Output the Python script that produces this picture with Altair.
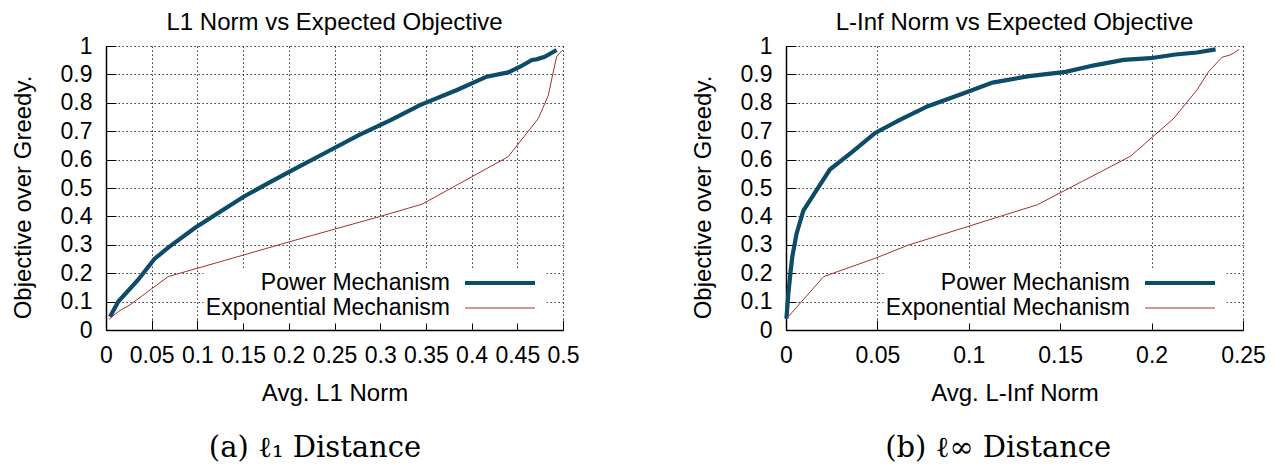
import altair as alt
import pandas as pd

SERIES = ["Power Mechanism", "Exponential Mechanism"]
COLORS = ["#0c4c68", "#a3302c"]
WIDTHS = [4.2, 1.0]

# L1 panel
l1_power_x = [0.0044, 0.0135, 0.035, 0.053, 0.068, 0.0975, 0.1266, 0.151, 0.178, 0.205, 0.2406,
              0.276, 0.312, 0.3435, 0.384, 0.4165, 0.44, 0.453, 0.466, 0.471, 0.48, 0.493]
l1_power_y = [0.047, 0.1, 0.176, 0.25, 0.29, 0.36, 0.42, 0.47, 0.518, 0.565, 0.625,
              0.685, 0.74, 0.792, 0.845, 0.892, 0.907, 0.927, 0.951, 0.953, 0.962, 0.986]
l1_exp_x = [0.0036, 0.0135, 0.026, 0.068, 0.13, 0.2, 0.3, 0.3457, 0.44, 0.473, 0.484,
            0.489, 0.493, 0.4967, 0.5]
l1_exp_y = [0.038, 0.065, 0.088, 0.188, 0.245, 0.31, 0.4, 0.443, 0.61, 0.745, 0.827,
            0.904, 0.962, 0.977, 0.986]

# L-Inf panel
inf_power_x = [0.0002, 0.0012, 0.0024, 0.0035, 0.0058, 0.0095, 0.0155, 0.024, 0.0366, 0.0488,
               0.062, 0.0776, 0.0954, 0.113, 0.133, 0.153, 0.1686, 0.1847, 0.1993, 0.213,
               0.2248, 0.235]
inf_power_y = [0.04, 0.12, 0.2, 0.26, 0.34, 0.42, 0.48, 0.565, 0.629, 0.694,
               0.739, 0.788, 0.829, 0.871, 0.894, 0.909, 0.932, 0.951, 0.957, 0.97,
               0.977, 0.988]
inf_exp_x = [0.0004, 0.0206, 0.0498, 0.0665, 0.1375, 0.1885, 0.2121, 0.2248, 0.2312,
             0.2385, 0.2427, 0.2449, 0.2478]
inf_exp_y = [0.041, 0.188, 0.255, 0.298, 0.441, 0.612, 0.745, 0.845, 0.91,
             0.96, 0.968, 0.975, 0.988]

L1_TICKS = [0, 0.05, 0.1, 0.15, 0.2, 0.25, 0.3, 0.35, 0.4, 0.45, 0.5]
INF_TICKS = [0, 0.05, 0.1, 0.15, 0.2, 0.25]
Y_TICKS = [0, 0.1, 0.2, 0.3, 0.4, 0.5, 0.6, 0.7, 0.8, 0.9, 1]

SANS = "Liberation Sans"
SERIF = "DejaVu Serif"
FS = 23      # tick labels and legend
TFS = 24     # titles
W, H = 457, 284


def frame(px, py, ex, ey):
    return pd.DataFrame({
        "x": px + ex,
        "y": py + ey,
        "series": [SERIES[0]] * len(px) + [SERIES[1]] * len(ex),
    })


def panel(df, xticks, xmax, xtitle, title, caption):
    xs = alt.Scale(domain=[0, xmax], nice=False, zero=False)
    ys = alt.Scale(domain=[0, 1], nice=False)
    grid_kw = dict(grid=True, gridDash=[1.3, 2.7], gridColor="#111111", gridWidth=1, gridOpacity=1)
    lab_kw = dict(labelFont=SANS, labelFontSize=FS, labelColor="black", labelPadding=14,
                  labelOverlap=False, labelFlush=False, format="~g",
                  titleFont=SANS, titleFontSize=TFS, titleFontWeight="normal", titleColor="black",
                  domainColor="black", domainWidth=1.5, ticks=False)
    leg = alt.Legend(title=None, orient="none", legendX=97.5, legendY=222.5, direction="vertical",
                     symbolType="M-5,0H5", symbolSize=196, rowPadding=1,
                     labelAlign="right", labelOffset={"expr": "-61.5"}, symbolOffset=282,
                     labelFont=SANS, labelFontSize=FS,
                     labelColor="black", labelLimit=500, fillColor="white", padding=3)
    lines = alt.Chart(df).mark_line().encode(
        x=alt.X("x:Q", scale=xs, axis=alt.Axis(orient="bottom", values=xticks, title=xtitle,
                                               titlePadding=14, **lab_kw, **grid_kw)),
        y=alt.Y("y:Q", scale=ys, axis=alt.Axis(orient="left", values=Y_TICKS,
                                               title="Objective over Greedy.", titlePadding=25,
                                               titleY=151, **lab_kw, **grid_kw)),
        color=alt.Color("series:N", sort=SERIES,
                        scale=alt.Scale(domain=SERIES, range=COLORS), legend=leg),
        strokeWidth=alt.StrokeWidth("series:N", sort=SERIES,
                                    scale=alt.Scale(domain=SERIES, range=WIDTHS), legend=leg),
    )
    tick_kw = dict(labels=False, domain=False, grid=False, ticks=True, tickSize=10,
                   tickColor="black", tickWidth=1, title=None)
    inner = alt.Chart(df).mark_line(opacity=0, strokeWidth=0).encode(
        x=alt.X("x:Q", scale=xs, axis=alt.Axis(orient="top", offset=-H, values=xticks, **tick_kw)),
        y=alt.Y("y:Q", scale=ys, axis=alt.Axis(orient="right", offset=-W, values=Y_TICKS, **tick_kw)),
    )
    layer = alt.layer(inner, lines).resolve_axis(x="independent", y="independent").properties(
        width=W, height=H,
        title=alt.TitleParams(title, font=SANS, fontSize=TFS, fontWeight="normal", color="black",
                              anchor="middle", frame="group", offset=0),
    )
    return alt.vconcat(layer).properties(
        title=alt.TitleParams(caption, orient="bottom", font=SERIF, fontSize=29,
                              fontWeight="normal", color="black", anchor="middle",
                              frame="bounds", offset=29, dx=20)
    )


left = panel(frame(l1_power_x, l1_power_y, l1_exp_x, l1_exp_y), L1_TICKS, 0.5,
             "Avg. L1 Norm", "L1 Norm vs Expected Objective", "(a) ℓ₁ Distance")
right = panel(frame(inf_power_x, inf_power_y, inf_exp_x, inf_exp_y), INF_TICKS, 0.25,
              "Avg. L-Inf Norm", "L-Inf Norm vs Expected Objective", "(b) ℓ∞ Distance")

chart = (
    alt.hconcat(left, right, spacing=112)
    .resolve_scale(color="independent", strokeWidth="independent")
    .resolve_legend(color="independent", strokeWidth="independent")
    .properties(padding={"left": 3, "top": 3, "right": 0, "bottom": 0})
    .configure_view(strokeWidth=0)
)

chart.save("out.html", embed_options={"renderer": "svg", "actions": False})
